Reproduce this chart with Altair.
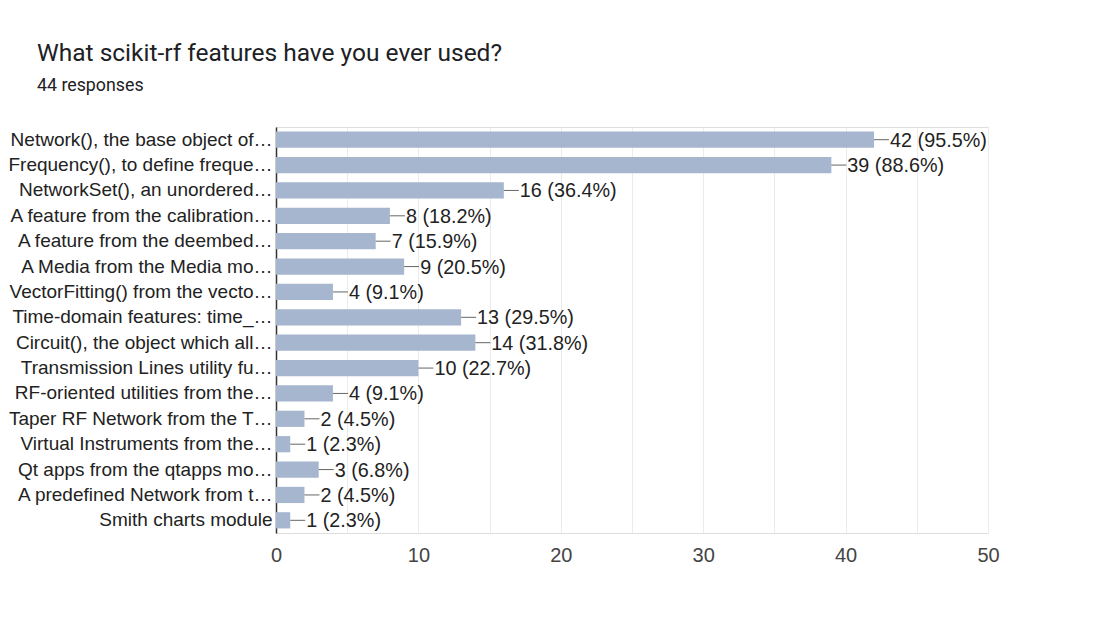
import altair as alt
import pandas as pd

features = [
    "Network(), the base object of…",
    "Frequency(), to define freque…",
    "NetworkSet(), an unordered…",
    "A feature from the calibration…",
    "A feature from the deembed…",
    "A Media from the Media mo…",
    "VectorFitting() from the vecto…",
    "Time-domain features: time_…",
    "Circuit(), the object which all…",
    "Transmission Lines utility fu…",
    "RF-oriented utilities from the…",
    "Taper RF Network from the T…",
    "Virtual Instruments from the…",
    "Qt apps from the qtapps mo…",
    "A predefined Network from t…",
    "Smith charts module",
]
counts = [42, 39, 16, 8, 7, 9, 4, 13, 14, 10, 4, 2, 1, 3, 2, 1]
pcts = ["95.5%", "88.6%", "36.4%", "18.2%", "15.9%", "20.5%", "9.1%", "29.5%",
        "31.8%", "22.7%", "9.1%", "4.5%", "2.3%", "6.8%", "4.5%", "2.3%"]
x_ticks = [0, 5, 10, 15, 20, 25, 30, 35, 40, 45, 50]

df = pd.DataFrame({
    "feature": features,
    "count": counts,
    "label": [f"{c} ({p})" for c, p in zip(counts, pcts)],
})

LABEL_FONT = "Liberation Sans"

y_enc = alt.Y(
    "feature:N",
    sort=features,
    title=None,
    scale=alt.Scale(paddingInner=0.36, paddingOuter=0.18),
    axis=alt.Axis(
        labelFont=LABEL_FONT, labelFontSize=19, labelColor="#222222",
        labelLimit=400, labelPadding=4, ticks=False,
        domainColor="#333333", domainWidth=1.5, grid=False,
    ),
)
x_enc = alt.X(
    "count:Q",
    title=None,
    scale=alt.Scale(domain=[0, 50], nice=False),
    axis=alt.Axis(
        values=x_ticks,
        labelExpr="datum.value % 10 == 0 ? datum.label : ''",
        labelFont=LABEL_FONT, labelFontSize=20, labelColor="#444444",
        labelPadding=12, labelFlush=False, ticks=False, domain=False,
        grid=True, gridColor="#ebebeb", gridWidth=1,
    ),
)

base = alt.Chart(df)

bars = base.mark_bar(color="#a7b6cf", cornerRadius=0).encode(y=y_enc, x=x_enc)

leaders = base.mark_rule(color="#666666", strokeWidth=1, x2Offset=15).encode(
    y=alt.Y("feature:N", sort=features),
    x=alt.X("count:Q"),
    x2=alt.X2("count"),
)

texts = base.mark_text(
    align="left", baseline="middle", dx=16, dy=1,
    font=LABEL_FONT, fontSize=19.8, color="#222222",
).encode(
    y=alt.Y("feature:N", sort=features),
    x=alt.X("count:Q"),
    text="label:N",
)

chart = (
    alt.layer(bars, leaders, texts)
    .properties(
        width=712,
        height=406,
        title=alt.TitleParams(
            text="What scikit-rf features have you ever used?",
            subtitle="44 responses",
            anchor="start",
            frame="group",
            dx=-239,
            offset=31,
            font="Roboto",
            fontSize=24.5,
            fontWeight="normal",
            color="#202124",
            subtitleFont="Roboto",
            subtitleFontSize=17.8,
            subtitleColor="#202124",
            subtitlePadding=11,
        ),
        padding={"left": 268, "top": 119, "right": 100, "bottom": 80},
        autosize=alt.AutoSizeParams(type="none"),
    )
    .configure_view(stroke="#ebebeb", strokeWidth=1)
    .configure(background="white")
)

chart.save("out.html", embed_options={"renderer": "svg", "actions": False})
